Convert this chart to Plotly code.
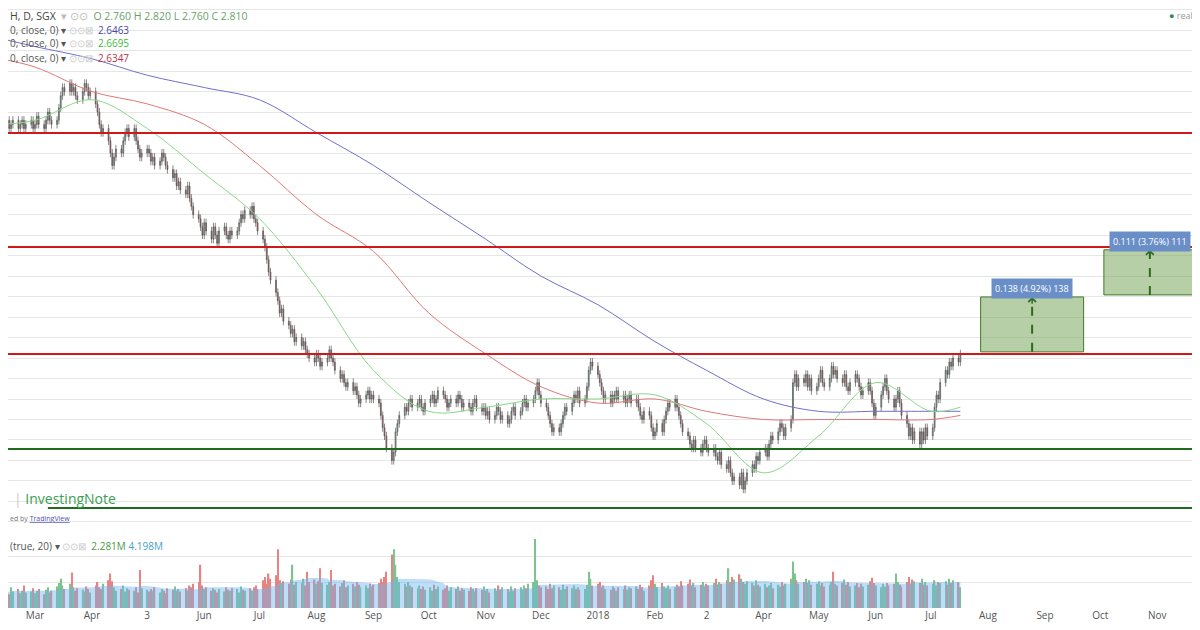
import pandas as pd
import plotly.graph_objects as go

# daily closes, one row per week (Mon-Fri), from 13 Feb 2017
closes = [
  3.37,3.38,3.36,3.37,3.38, 3.36,3.37,3.38,3.36,3.37, 3.38,3.36,3.37,3.39,3.37, 3.36,3.38,3.40,3.38,3.37,
  3.38,3.41,3.44,3.46,3.45, 3.47,3.45,3.46,3.44,3.43, 3.45,3.47,3.46,3.44,3.45, 3.42,3.40,3.37,3.35,3.36,
  3.33,3.30,3.27,3.29,3.31, 3.30,3.33,3.35,3.36,3.34, 3.36,3.33,3.31,3.29,3.30, 3.31,3.30,3.28,3.29,3.27,
  3.28,3.30,3.29,3.27,3.26, 3.24,3.25,3.22,3.23,3.21, 3.20,3.22,3.19,3.17,3.15, 3.14,3.12,3.10,3.13,3.11,
  3.09,3.12,3.10,3.08,3.11, 3.12,3.10,3.09,3.11,3.10, 3.11,3.13,3.15,3.14,3.16, 3.15,3.17,3.14,3.13,3.11,
  3.09,3.07,3.04,3.01,2.99, 2.96,2.94,2.91,2.92,2.89, 2.88,2.86,2.87,2.84,2.85, 2.83,2.84,2.82,2.81,2.80,
  2.79,2.81,2.80,2.78,2.79, 2.80,2.82,2.80,2.79,2.77, 2.75,2.76,2.74,2.73,2.74, 2.72,2.73,2.71,2.69,2.70,
  2.71,2.72,2.70,2.71,2.70, 2.69,2.66,2.63,2.61,2.58, 2.55,2.57,2.62,2.64,2.66, 2.68,2.67,2.69,2.70,2.68,
  2.69,2.70,2.68,2.67,2.69, 2.70,2.71,2.69,2.70,2.72, 2.71,2.70,2.68,2.69,2.70, 2.69,2.71,2.70,2.68,2.69,
  2.68,2.67,2.69,2.70,2.68, 2.67,2.68,2.66,2.67,2.65, 2.66,2.68,2.67,2.65,2.66, 2.64,2.65,2.67,2.68,2.66,
  2.67,2.69,2.70,2.68,2.69, 2.70,2.72,2.74,2.71,2.69, 2.68,2.66,2.64,2.62,2.63, 2.62,2.64,2.66,2.68,2.67,
  2.69,2.71,2.70,2.72,2.69, 2.70,2.73,2.77,2.79,2.78, 2.76,2.74,2.72,2.70,2.71, 2.69,2.71,2.70,2.72,2.70,
  2.71,2.69,2.70,2.71,2.69, 2.70,2.68,2.66,2.65,2.67, 2.66,2.63,2.61,2.62,2.64, 2.62,2.65,2.67,2.69,2.68,
  2.70,2.68,2.66,2.64,2.62, 2.61,2.59,2.58,2.60,2.58, 2.57,2.59,2.60,2.58,2.57, 2.58,2.56,2.55,2.57,2.54,
  2.53,2.55,2.52,2.50,2.51, 2.49,2.52,2.48,2.50,2.52, 2.54,2.53,2.56,2.55,2.57, 2.58,2.56,2.59,2.61,2.60,
  2.62,2.64,2.63,2.61,2.63, 2.65,2.74,2.76,2.73,2.75, 2.74,2.76,2.73,2.75,2.72, 2.73,2.75,2.77,2.74,2.73,
  2.75,2.78,2.76,2.77,2.75, 2.74,2.76,2.73,2.72,2.74, 2.76,2.75,2.73,2.71,2.72, 2.74,2.72,2.69,2.66,2.68,
  2.71,2.73,2.75,2.72,2.70, 2.68,2.70,2.72,2.69,2.66, 2.64,2.61,2.63,2.60,2.62, 2.59,2.62,2.60,2.63,2.61,
  2.63,2.68,2.71,2.70,2.74, 2.77,2.76,2.79,2.78,2.80, 2.79,2.81,
]
volumes = [
  1.8,2.1,1.6,2.4,1.9, 2.2,1.7,2.0,2.6,1.8, 1.9,2.3,1.7,2.0,2.2, 1.6,2.1,2.4,1.8,2.0,
  2.5,2.9,3.4,2.6,2.2, 2.8,4.1,2.4,2.0,2.3, 2.1,1.9,2.5,2.2,1.8, 2.6,3.0,2.4,2.2,2.8,
  3.2,4.0,3.1,2.4,2.0, 2.2,2.6,1.9,2.3,2.1, 2.0,2.4,1.8,4.4,2.3, 2.1,1.9,2.2,2.0,2.4,
  1.8,2.2,2.0,1.7,2.3, 2.1,2.5,2.0,2.2,1.9, 2.3,2.0,2.6,2.4,2.8, 3.0,5.0,2.6,2.2,2.4,
  2.0,2.3,2.1,1.8,2.2, 1.9,2.4,2.1,2.0,2.3, 2.2,1.8,2.5,2.1,2.0, 2.3,2.0,2.4,2.6,2.2,
  3.2,3.6,2.8,4.0,3.4, 3.8,6.8,3.2,2.9,3.1, 2.8,3.3,5.0,2.7,3.0, 2.9,3.4,2.6,4.2,3.0,
  3.3,2.8,3.1,4.6,2.9, 2.7,3.0,4.4,2.6,2.8, 2.5,2.9,3.2,2.4,2.6, 2.8,2.5,3.0,2.7,2.4,
  2.6,2.3,2.8,2.5,2.7, 2.9,3.4,3.0,3.6,4.2, 6.2,6.8,5.0,3.6,3.0, 2.8,2.5,3.0,2.6,2.4,
  2.3,2.6,2.2,2.5,2.1, 2.4,2.0,2.7,2.2,2.5, 2.1,2.3,2.6,2.0,2.4, 2.2,2.5,2.0,2.3,2.1,
  2.0,2.4,2.2,1.9,2.3, 2.1,2.5,2.0,2.2,1.8, 2.3,2.0,2.6,2.1,2.4, 2.2,1.9,2.5,2.0,2.3,
  2.4,2.1,2.6,2.3,2.8, 3.0,8.0,3.2,2.6,2.4, 2.5,2.2,2.8,2.3,2.6, 2.4,2.1,2.7,2.2,2.5,
  2.3,2.6,2.2,2.4,2.1, 2.2,2.7,4.2,3.4,2.6, 2.8,3.0,2.4,2.6,2.2, 2.1,2.5,2.3,2.0,2.4,
  2.2,2.6,2.1,2.4,2.3, 2.5,2.2,2.7,2.4,2.0, 2.6,3.2,3.8,2.8,2.4, 2.9,2.5,2.3,2.6,2.2,
  2.4,2.7,2.5,3.1,2.6, 2.8,3.3,2.6,2.9,2.4, 2.7,3.0,2.5,2.8,2.6, 2.9,3.4,2.7,3.0,2.8,
  3.2,4.6,3.0,3.6,3.3, 3.9,3.4,3.0,2.8,3.1, 2.9,2.6,3.2,2.7,2.5, 2.8,2.4,2.6,2.9,2.3,
  2.7,2.5,3.0,2.6,2.8, 3.4,5.4,4.0,3.2,2.8, 3.0,3.4,2.9,3.2,2.7, 2.8,3.1,2.6,2.9,2.5,
  2.7,3.0,4.2,2.8,2.6, 2.9,3.3,2.7,3.0,2.5, 2.6,2.9,2.4,2.8,2.5, 2.7,3.1,3.5,2.9,2.6,
  2.4,2.8,2.5,2.9,2.6, 2.8,4.0,3.0,2.7,2.5, 3.0,3.6,2.8,3.3,3.1, 2.9,3.4,2.7,3.0,2.6,
  2.8,3.2,2.6,3.0,2.9, 3.1,2.7,3.4,2.9,3.2, 3.0,2.4,
]

# moving averages read at a few dates
ma_dates = ["2017-02-10","2017-03-01","2017-04-01","2017-05-01","2017-06-01","2017-07-01","2017-08-01",
            "2017-09-01","2017-10-01","2017-11-01","2017-12-01","2018-01-01","2018-02-01","2018-03-01",
            "2018-04-01","2018-05-01","2018-06-01","2018-07-01","2018-07-17"]
ma_blue  = [3.58,3.56,3.53,3.49,3.46,3.43,3.35,3.27,3.18,3.09,3.00,2.93,2.84,2.77,2.70,2.67,2.67,2.67,2.67]
ma_red   = [3.53,3.51,3.45,3.42,3.37,3.27,3.15,3.06,2.91,2.81,2.73,2.69,2.70,2.67,2.65,2.65,2.65,2.65,2.66]
ma_green = [3.37,3.38,3.43,3.36,3.25,3.14,2.97,2.77,2.67,2.68,2.70,2.70,2.71,2.64,2.52,2.61,2.74,2.67,2.68]

levels_red = [3.349, 3.071, 2.81]
levels_green = [2.578, 2.434]

dates = pd.bdate_range("2017-02-13", periods=len(closes))
opens = [3.36] + closes[:-1]
highs = [max(o, c) + 0.01 for o, c in zip(opens, closes)]
lows = [min(o, c) - 0.01 for o, c in zip(opens, closes)]
vol = pd.Series(volumes)
vol_colors = ["#e8837f" if c < o else "#7cc48f" for o, c in zip(opens, closes)]

fig = go.Figure()
fig.add_trace(go.Scatter(x=ma_dates, y=ma_blue, mode="lines", line=dict(color="#7070c8", width=1, shape="spline")))
fig.add_trace(go.Scatter(x=ma_dates, y=ma_red, mode="lines", line=dict(color="#e07878", width=1, shape="spline")))
fig.add_trace(go.Scatter(x=ma_dates, y=ma_green, mode="lines", line=dict(color="#88d888", width=1, shape="spline")))
fig.add_trace(go.Candlestick(x=dates, open=opens, high=highs, low=lows, close=closes, whiskerwidth=0,
    increasing=dict(line=dict(color="#555555", width=0.7), fillcolor="#7fb396"),
    decreasing=dict(line=dict(color="#555555", width=0.7), fillcolor="#c44a55")))

fig.add_trace(go.Bar(x=dates, y=volumes, marker=dict(color=vol_colors, line=dict(width=0)), xaxis="x2", yaxis="y2"))
fig.add_trace(go.Scatter(x=dates, y=vol.rolling(20, min_periods=1).mean(), mode="lines", fill="tozeroy",
    line=dict(color="rgba(120,190,240,0.6)", width=0), fillcolor="rgba(110,180,240,0.45)", xaxis="x2", yaxis="y2"))

for lv in levels_red:
    fig.add_shape(type="line", xref="paper", x0=0, x1=1, y0=lv, y1=lv, yref="y", line=dict(color="#d01818", width=2))
fig.add_shape(type="line", xref="paper", x0=0, x1=1, y0=levels_green[0], y1=levels_green[0], yref="y",
              line=dict(color="#1f6b1f", width=2))
fig.add_shape(type="line", x0="2017-03-08", x1="2018-11-30", y0=levels_green[1], y1=levels_green[1],
              xref="x", yref="y", line=dict(color="#1f6b1f", width=2))

# projection boxes
boxes = [("2018-07-28", "2018-09-22", 2.815, 2.949, "0.138 (4.92%) 138"),
         ("2018-10-03", "2018-11-22", 2.954, 3.064, "0.111 (3.76%) 111")]
for x0, x1, y0, y1, label in boxes:
    fig.add_shape(type="rect", x0=x0, x1=x1, y0=y0, y1=y1, fillcolor="rgba(110,160,80,0.5)",
                  line=dict(color="#3f7a2a", width=1))
    xm = pd.Timestamp(x0) + (pd.Timestamp(x1) - pd.Timestamp(x0)) / 2
    fig.add_shape(type="line", x0=xm, x1=xm, y0=y0, y1=y1 - 0.004, line=dict(color="#2f6a1f", width=2, dash="dash"))
    fig.add_annotation(x=xm, y=y1, ax=xm, ay=y1 - 0.02, axref="x", ayref="y", showarrow=True,
                       arrowhead=4, arrowsize=1, arrowwidth=1.5, arrowcolor="#2f6a1f", text="")
    fig.add_annotation(x=xm, y=y1 + 0.02, text=label, showarrow=False, bgcolor="#6a8fc8",
                       font=dict(color="white", size=9), borderpad=3)

months = ["2017-03-01","2017-04-01","2017-05-01","2017-06-01","2017-07-01","2017-08-01","2017-09-01","2017-10-01",
          "2017-11-01","2017-12-01","2018-01-01","2018-02-01","2018-03-01","2018-04-01","2018-05-01","2018-06-01",
          "2018-07-01","2018-08-01","2018-09-01","2018-10-01","2018-11-01"]
month_text = ["Mar","Apr","3","Jun","Jul","Aug","Sep","Oct","Nov","Dec","2018","Feb","2","Apr","May","Jun",
              "Jul","Aug","Sep","Oct","Nov"]

xr = ["2017-02-14 08:00", "2018-11-24 06:00"]
ax = dict(range=xr, showgrid=False, showline=False, zeroline=False)
t = dict(xref="paper", yref="paper", showarrow=False, xanchor="left", yanchor="middle", font=dict(size=10, color="#555"))
fig.add_annotation(x=0, y=0.987, text="H, D, SGX  <span style='color:#bbb'>▾ ⊙⊙</span>  <span style='color:#6a9f6a'>O 2.760 H 2.820 L 2.760 C 2.810</span>",
                   xref="paper", yref="paper", showarrow=False, xanchor="left", yanchor="middle", font=dict(size=10.5, color="#444"))
for yy, val, col in [(0.963, "2.6463", "#4646a8"), (0.941, "2.6695", "#3cbc3c"), (0.917, "2.6347", "#c0304a")]:
    fig.add_annotation(y=yy, x=0, text=f"0, close, 0) ▾ <span style='color:#ccc'>⊙⊙⊠</span>  <span style='color:{col}'>{val}</span>", **t)
fig.add_annotation(x=0.003, y=0.163, text="<span style='color:#ccc'>|</span> InvestingNote", font=dict(size=14, color="#3aa050"),
                   xref="paper", yref="paper", showarrow=False, xanchor="left")
fig.add_annotation(x=0, y=0.138, text="ed by <u style='color:#5050b0'>TradingView</u>", font=dict(size=7, color="#777"),
                   xref="paper", yref="paper", showarrow=False, xanchor="left")
fig.add_annotation(x=0, y=0.103, text="(true, 20) ▾ <span style='color:#ccc'>⊙⊙⊠</span>  <span style='color:#4a9a4a'>2.281M</span> <span style='color:#4aa0c8'>4.198M</span>", **t)
fig.add_annotation(x=0.972, y=0.987, text="<span style='color:#2a8a5a'>●</span> realtim", font=dict(size=9, color="#999"),
                   xref="paper", yref="paper", showarrow=False, xanchor="left", yanchor="middle")

fig.update_layout(
    width=1192, height=622, margin=dict(l=0, r=0, t=0, b=22, autoexpand=False), showlegend=False,
    plot_bgcolor="white", paper_bgcolor="white", bargap=0.3, font=dict(family="Open Sans, Arial"),
    xaxis=dict(ax, rangeslider=dict(visible=False), showticklabels=False, anchor="y"),
    xaxis2=dict(ax, matches="x", anchor="y2", tickvals=months, ticktext=month_text, ticks="",
                tickfont=dict(size=10, color="#555")),
    yaxis=dict(domain=[0.127, 1], range=[2.376, 3.654], dtick=0.05, gridcolor="#e6e6e6", showticklabels=False, zeroline=False),
    yaxis2=dict(domain=[0, 0.118], range=[0, 8.2], dtick=3, gridcolor="#e6e6e6", showticklabels=False, zeroline=False),
)
fig.write_html("out.html")
